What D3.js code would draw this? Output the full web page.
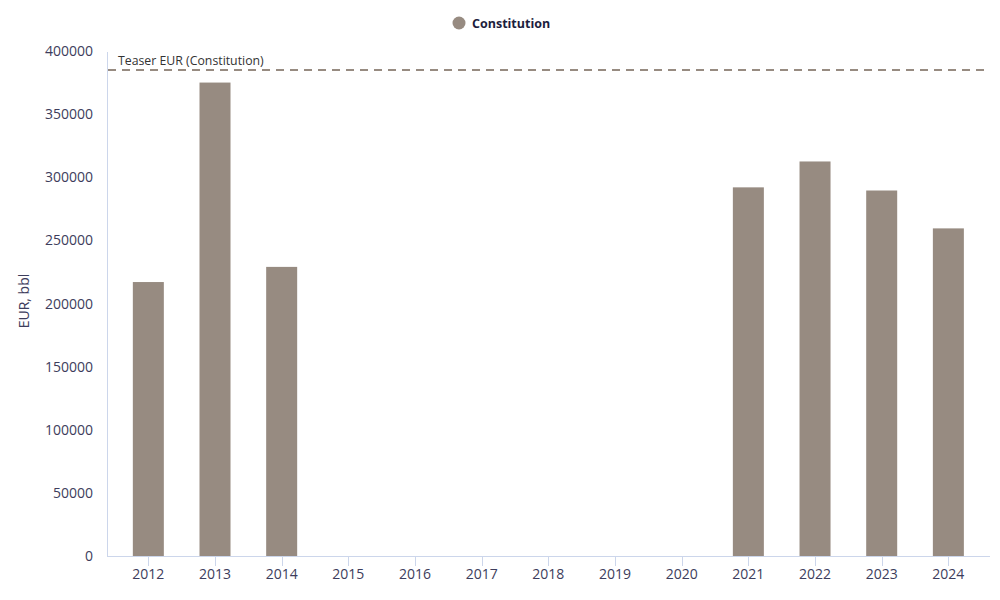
<!DOCTYPE html>
<html><head><meta charset="utf-8">
<script src="https://cdn.jsdelivr.net/npm/d3@7"></script>
<style>body{margin:0;background:#fff;font-family:"Open Sans","Noto Sans",sans-serif;}</style>
</head><body><svg id="c" width="1000" height="600"></svg>
<script>
const categories = ["2012","2013","2014","2015","2016","2017","2018","2019","2020","2021","2022","2023","2024"];
const values = [217000, 375000, 229000, null, null, null, null, null, null, 292000, 312500, 289500, 259500];
const yTicks = [0, 50000, 100000, 150000, 200000, 250000, 300000, 350000, 400000];
const seriesName = "Constitution";
const teaserValue = 385000;
const teaserLabel = "Teaser EUR (Constitution)";
const yTitle = "EUR, bbl";

const svg = d3.select("#c");
const barColor = "#978b81";
const axisColor = "#ccd6eb";
const labelColor = "#3d3d5c";

const x = d3.scaleBand().domain(categories).range([115, 981.7]).paddingInner(0.535).paddingOuter(0.2675);
const y = d3.scaleLinear().domain([0, 400000]).range([556, 51]);

// y labels
svg.append("g").selectAll("text").data(yTicks).join("text")
  .attr("x", 93).attr("y", d => y(d) + 5).attr("text-anchor", "end")
  .attr("font-size", 14).attr("fill", labelColor).text(d => d);

// y axis line
svg.append("line").attr("x1", 107.5).attr("x2", 107.5).attr("y1", 52).attr("y2", 556)
  .attr("stroke", axisColor).attr("stroke-width", 1);

// bars
svg.append("g").selectAll("rect").data(categories.map((c,i)=>({c, v: values[i]})).filter(d => d.v != null))
  .join("rect")
  .attr("x", d => x(d.c)).attr("width", x.bandwidth())
  .attr("y", d => y(d.v)).attr("height", d => y(0) - y(d.v))
  .attr("fill", barColor);

// x axis line
svg.append("line").attr("x1", 107).attr("x2", 990).attr("y1", 556.5).attr("y2", 556.5)
  .attr("stroke", axisColor).attr("stroke-width", 1);
// ticks
svg.append("g").selectAll("line").data(categories).join("line")
  .attr("x1", d => Math.round(x(d) + x.bandwidth()/2) + 0.5)
  .attr("x2", d => Math.round(x(d) + x.bandwidth()/2) + 0.5)
  .attr("y1", 556).attr("y2", 566).attr("stroke", axisColor);
svg.append("g").selectAll("text").data(categories).join("text")
  .attr("x", d => x(d) + x.bandwidth()/2).attr("y", 579).attr("text-anchor", "middle")
  .attr("font-size", 14).attr("fill", labelColor).text(d => d);

// teaser dashed line
svg.append("line").attr("x1", 108).attr("x2", 990).attr("y1", y(teaserValue)).attr("y2", y(teaserValue))
  .attr("stroke", barColor).attr("stroke-width", 2).attr("stroke-dasharray", "8,6");
svg.append("text").attr("x", 118).attr("y", y(teaserValue) - 5)
  .attr("font-size", 12.3).attr("fill", "#333").text(teaserLabel);

// y title
svg.append("text").attr("transform", "translate(29,301) rotate(-90)").attr("text-anchor", "middle")
  .attr("font-size", 14).attr("fill", labelColor).text(yTitle);

// legend
svg.append("circle").attr("cx", 459).attr("cy", 23).attr("r", 6.5).attr("fill", barColor);
svg.append("text").attr("x", 472).attr("y", 28).attr("font-size", 12.5).attr("font-weight", "bold")
  .attr("fill", "#1d1d3d").text(seriesName);
</script></body></html>
